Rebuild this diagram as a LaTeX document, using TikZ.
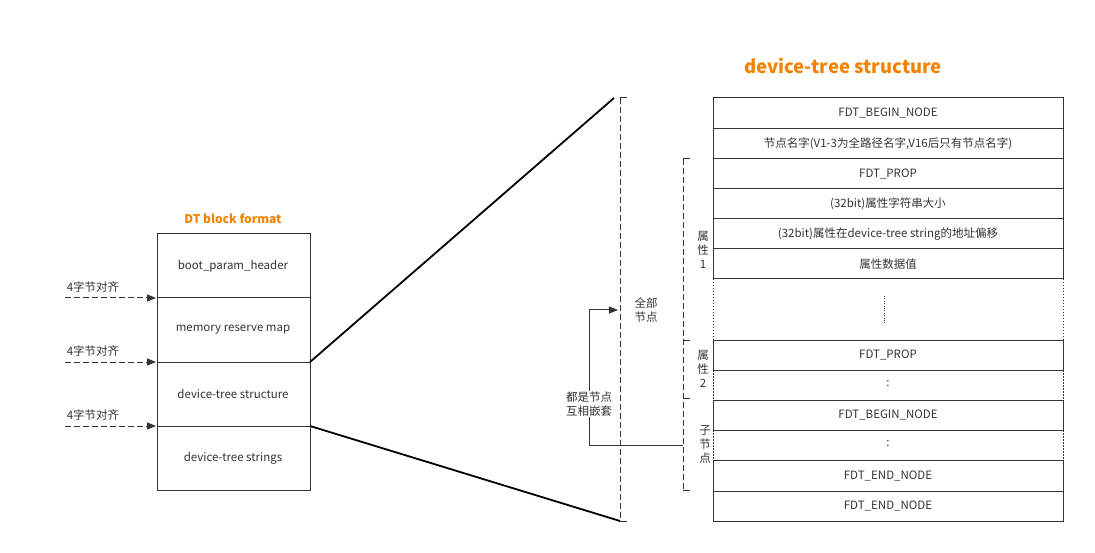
\documentclass[tikz,border=0pt]{standalone}
\usepackage{fontspec}
\setmainfont{Noto Sans CJK SC}
\usetikzlibrary{arrows.meta}
\definecolor{orng}{HTML}{F08300}
\definecolor{ln}{HTML}{333333}
\begin{document}
\begin{tikzpicture}[x=1pt,y=-1pt,
  txt/.style={font=\fontsize{11.5}{14}\selectfont,text=ln},
  cell/.style={draw=ln,line width=1pt},
  dsh/.style={draw=ln,line width=1pt,dash pattern=on 6pt off 3pt},
  arr/.style={-{Triangle[length=9pt,width=7pt,fill=ln]}}]
\useasboundingbox (0,0) rectangle (1095,553);
% left block
\node[font=\bfseries\fontsize{12}{14}\selectfont,text=orng] (t1) at (233,219) {DT block format};
\draw[cell] (157,234) rectangle (310,490);
\foreach \y in {298,362,426} \draw[cell] (157,\y) -- (310,\y);
\node[txt] (b1) at (233,266) {boot\_param\_header};
\node[txt] (b2) at (233,330) {memory reserve map};
\node[txt] (b3) at (233,394) {device-tree structure};
\node[txt] (b4) at (233,458) {device-tree strings};
\foreach \y/\n in {298/a,362/b,426/c}{
  \coordinate (s\n) at (65,\y); \coordinate (e\n) at (156,\y);
  \draw[dsh,arr] (s\n) -- (e\n);
  \node[txt] (l\n) at (93,\y-11) {4字节对齐};}
% funnel lines
\coordinate (f1) at (310,362); \coordinate (f2) at (614,98);
\coordinate (f3) at (310,426); \coordinate (f4) at (620,521);
\draw[line width=1.8pt] (f1) -- (f2);
\draw[line width=1.8pt] (f3) -- (f4);
\coordinate (v1) at (620,98); \coordinate (v2) at (620,521);
\draw[dsh] (v1) -- (v2);
\draw[cell] (620,98) -- (627,98) (620,521) -- (627,521);
\node[txt,align=center] (all) at (646,310) {全部\\节点};
% right table
\def\L{713}\def\R{1063}
\node[font=\bfseries\fontsize{18.5}{20}\selectfont,text=orng] (t2) at (843,66) {device-tree structure};
\foreach \a/\b in {98/129,129/159,159/189,189/219,219/249,249/279,340/370,400/430,460/491,491/521}
  \draw[cell] (\L,\a) rectangle (\R,\b);
\draw[cell] (\L,279) -- (\R,279) (\L,340) -- (\R,340);
\draw[draw=ln,line width=1pt,dotted] (\L,279) -- (\L,340) (\R,279) -- (\R,340);
\draw[draw=ln,line width=1pt,dash pattern=on 2pt off 1pt] (\L,370) -- (\L,400) (\R,370) -- (\R,400) (\L,430) -- (\L,460) (\R,430) -- (\R,460);
\draw[cell] (\L,400) -- (\R,400) (\L,430) -- (\R,430);
\node[txt] (r1) at (888,113.5) {FDT\_BEGIN\_NODE};
\node[txt] (r2) at (888,144) {节点名字(V1-3为全路径名字,V16后只有节点名字)};
\node[txt] (r3) at (888,174) {FDT\_PROP};
\node[txt] (r4) at (888,204) {(32bit)属性字符串大小};
\node[txt] (r5) at (888,234) {(32bit)属性在device-tree string的地址偏移};
\node[txt] (r6) at (888,264) {属性数据值};
\draw[draw=ln,dotted] (884,296) -- (884,324);
\node[txt] (r7) at (888,355) {FDT\_PROP};
\node[txt] (r8) at (888,384) {:};
\node[txt] (r9) at (888,415) {FDT\_BEGIN\_NODE};
\node[txt] (r10) at (888,444) {:};
\node[txt] (r11) at (888,476) {FDT\_END\_NODE};
\node[txt] (r12) at (888,506) {FDT\_END\_NODE};
% bracket
\draw[dsh] (683,159) -- (683,490);
\foreach \y in {159,340,398,490} \draw[cell] (683,\y) -- (690,\y);
\node[txt,align=center] (p1) at (703,250) {属\\性\\1};
\node[txt,align=center] (p2) at (703,369) {属\\性\\2};
\node[txt,align=center] (p3) at (705,444) {子\\节\\点};
% nesting arrow
\coordinate (n0) at (683,445); \coordinate (n1) at (589,445);
\coordinate (n2) at (589,310); \coordinate (n3) at (618,310);
\draw[draw=ln,line width=1pt,arr] (n0) -- (n1) -- (n2) -- (n3);
\node[txt,align=center,fill=white,inner sep=1pt] (nest) at (589,404) {都是节点\\互相嵌套};
\end{tikzpicture}
\end{document}
